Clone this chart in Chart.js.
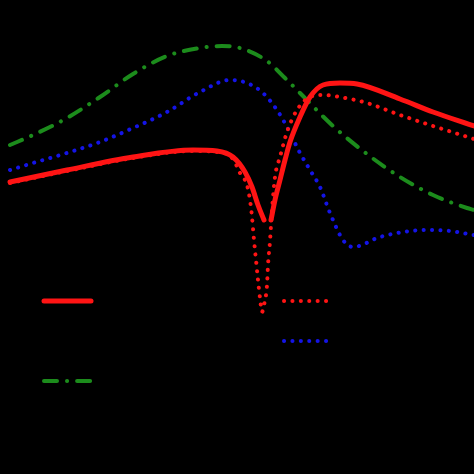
<!DOCTYPE html>
<html>
<head>
<meta charset="utf-8">
<script src="https://cdn.jsdelivr.net/npm/chart.js@4"></script>
<style>
  html, body { margin: 0; padding: 0; background: #000; }
  #wrap { width: 474px; height: 474px; position: relative; }
</style>
</head>
<body>
<div id="wrap"><canvas id="chart"></canvas></div>
<script>
// values (arbitrary units, 0..474 on both axes)
// the solid red curve is broken at the bottom of its dip (null = gap)
const redSolidX = [10, 67, 133, 193, 217, 233, 245, 252, 258, 264, 267, 271, 275, 280, 285, 290, 300, 310, 323, 340, 357, 400, 433, 474];
const redSolidY = [292, 304, 317, 324, 323, 317, 302, 287, 269, 254, null, 254, 274, 294, 314, 332, 357, 377, 389, 391, 390, 375, 362, 348];

const redDotX = [10, 67, 133, 193, 217, 233, 240, 247, 250, 252, 254, 256, 258, 260, 262, 264, 267, 268, 270, 272, 275, 280, 287, 297, 310, 323, 340, 367, 400, 433, 474];
const redDotY = [291, 303, 316, 323, 322, 315, 301, 289, 274, 257, 234, 214, 194, 176, 162, 169, 189, 209, 233, 264, 297, 317, 342, 364, 377, 379, 377, 371, 359, 348, 335];

const blueX = [10, 33, 67, 100, 133, 167, 200, 230, 247, 263, 277, 287, 300, 310, 320, 330, 343, 353, 380, 410, 430, 450, 474];
const blueY = [304, 311, 321, 332, 346, 362, 382, 394, 391, 381, 364, 347, 321, 304, 287, 261, 234, 227, 237, 243, 244, 243, 239];

const greenX = [10, 33, 67, 100, 133, 167, 200, 222, 240, 267, 285, 300, 333, 367, 400, 433, 467, 474];
const greenY = [329, 339, 356, 377, 400, 418, 426, 428, 426, 413, 396, 381, 348, 320, 297, 279, 266, 264];

const RED = '#ff1414';
const BLUE = '#1414e6';
const GREEN = '#1c8c1c';

function pts(xs, ys) {
  return xs.map((x, i) => ({ x: x, y: ys[i] }));
}

// legend samples only (the labels are black on black in the original)
const legendPlugin = {
  id: 'sampleLegend',
  afterDraw(chart) {
    const ctx = chart.ctx;
    const items = [
      { ds: 0, x: 44, y: 301 },
      { ds: 1, x: 284, y: 301 },
      { ds: 2, x: 284, y: 341 },
      { ds: 3, x: 44, y: 381 }
    ];
    items.forEach(it => {
      const d = chart.data.datasets[it.ds];
      const len = it.ds === 0 || it.ds === 3 ? 47 : 43;
      ctx.save();
      ctx.strokeStyle = d.borderColor;
      ctx.lineWidth = d.borderWidth;
      ctx.lineCap = 'round';
      ctx.setLineDash(d.borderDash || []);
      ctx.beginPath();
      ctx.moveTo(it.x, it.y);
      ctx.lineTo(it.x + len, it.y);
      ctx.stroke();
      ctx.restore();
    });
  }
};

new Chart(document.getElementById('chart'), {
  type: 'line',
  data: {
    datasets: [
      {
        label: 'red solid',
        data: pts(redSolidX, redSolidY),
        borderColor: RED,
        borderWidth: 5,
        borderCapStyle: 'round',
        spanGaps: false
      },
      {
        label: 'red dotted',
        data: pts(redDotX, redDotY),
        borderColor: RED,
        borderWidth: 4,
        borderDash: [0.1, 8.3],
        borderCapStyle: 'round'
      },
      {
        label: 'blue dotted',
        data: pts(blueX, blueY),
        borderColor: BLUE,
        borderWidth: 4,
        borderDash: [0.1, 8.3],
        borderCapStyle: 'round'
      },
      {
        label: 'green dash-dot',
        data: pts(greenX, greenY),
        borderColor: GREEN,
        borderWidth: 4,
        borderDash: [13, 10, 0.1, 10],
        borderCapStyle: 'round'
      }
    ]
  },
  options: {
    responsive: true,
    maintainAspectRatio: false,
    animation: false,
    layout: { padding: 0 },
    elements: {
      point: { radius: 0 },
      line: { cubicInterpolationMode: 'monotone', fill: false }
    },
    plugins: {
      legend: { display: false },
      tooltip: { enabled: false }
    },
    scales: {
      x: { type: 'linear', min: 0, max: 474, display: false },
      y: { type: 'linear', min: 0, max: 474, display: false }
    }
  },
  plugins: [legendPlugin]
});
</script>
</body>
</html>
